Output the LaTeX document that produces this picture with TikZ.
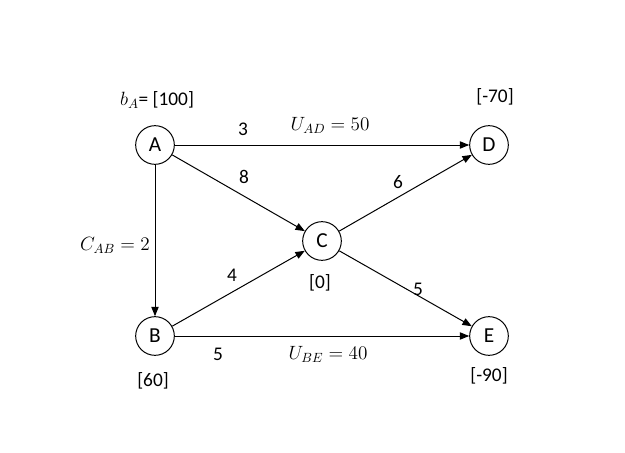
\documentclass[tikz,border=0pt]{standalone}
\usepackage{fontspec}
\setmainfont{Carlito}
\usetikzlibrary{arrows.meta}
\begin{document}
\begin{tikzpicture}[x=0.75pt,y=-0.75pt,
  vtx/.style={circle,draw,line width=0.75pt,minimum size=29pt,inner sep=0pt,font=\fontsize{16}{18}\selectfont},
  lbl/.style={inner sep=0pt,font=\fontsize{14.5}{16}\selectfont},
  arc/.style={line width=0.75pt,-{Triangle[length=7pt,width=5.5pt]}}]
\useasboundingbox (0,0) rectangle (625,453);
\node[vtx] (A) at (155,145) {A};
\node[vtx] (D) at (489,145) {D};
\node[vtx] (C) at (322,241) {C};
\node[vtx] (B) at (155,336) {B};
\node[vtx] (E) at (489,336) {E};
\draw[arc] (A) -- (D);
\draw[arc] (A) -- (C);
\draw[arc] (A) -- (B);
\draw[arc] (B) -- (C);
\draw[arc] (B) -- (E);
\draw[arc] (C) -- (D);
\draw[arc] (C) -- (E);
\node[lbl] (bA) at (157,100) {$b_A$= [100]};
\node[lbl] (lD) at (495,97) {[-70]};
\node[lbl] (w3) at (243,129) {3};
\node[lbl] (uAD) at (330,125) {$U_{AD}=50$};
\node[lbl] (w8) at (244,177) {8};
\node[lbl] (w6) at (398,182) {6};
\node[lbl] (cAB) at (115,245) {$C_{AB}=2$};
\node[lbl] (w4) at (232,275) {4};
\node[lbl] (lC) at (320,283) {[0]};
\node[lbl] (w5a) at (418,289) {5};
\node[lbl] (w5b) at (218,354) {5};
\node[lbl] (uBE) at (328,354) {$U_{BE}=40$};
\node[lbl] (lB) at (153,381) {[60]};
\node[lbl] (lE) at (489,376) {[-90]};
\end{tikzpicture}
\end{document}
